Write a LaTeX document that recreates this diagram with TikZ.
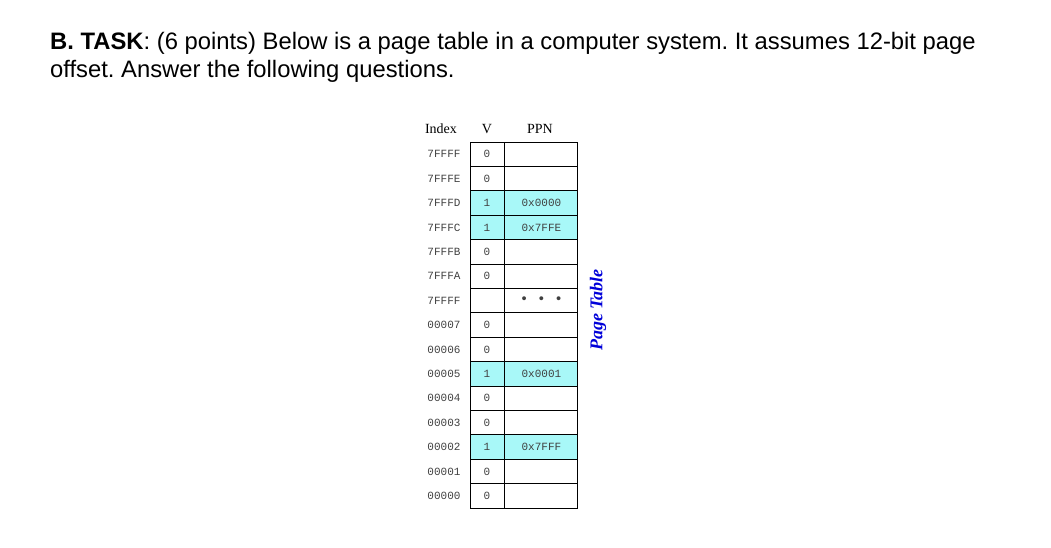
\documentclass[tikz,border=0pt]{standalone}
\usepackage{fontspec}
\setmainfont{Liberation Sans}
\newfontfamily\tms{Liberation Serif}
\newfontfamily\crr{Liberation Mono}
\frenchspacing
\begin{document}
\begin{tikzpicture}[x=1pt,y=-1pt,
  cellv/.style={draw=black,line width=0.9pt,minimum width=34pt,minimum height=24.4pt,inner sep=0pt,font=\crr\fontsize{11}{11}\selectfont,text=black!75},
  cellp/.style={draw=black,line width=0.9pt,minimum width=73pt,minimum height=24.4pt,inner sep=0pt,font=\crr\fontsize{11}{11}\selectfont,text=black!75},
  idx/.style={anchor=east,font=\crr\fontsize{11}{11}\selectfont,text=black!75},
  hdr/.style={font=\tms\fontsize{14}{14}\selectfont}]
\useasboundingbox (0,0) rectangle (1051,547);
\node[anchor=north west,align=left,font=\fontsize{23.8}{28}\selectfont,inner sep=0pt] (title) at (50,32)
 {\textbf{B. TASK}: (6 points) Below is a page table in a computer system. It assumes 12-bit page\\offset. Answer the following questions.};
\node[hdr] (hi) at (441,129) {Index};
\node[hdr] (hv) at (487,129) {V};
\node[hdr] (hp) at (540,129) {PPN};
\definecolor{cy}{HTML}{A8F8F8}
\foreach \i/\ix/\v/\p/\f in {0/7FFFF/0//white,1/7FFFE/0//white,2/7FFFD/1/0x0000/cy,3/7FFFC/1/0x7FFE/cy,4/7FFFB/0//white,5/7FFFA/0//white,6/7FFFF//{\Large\textbullet\ \textbullet\ \textbullet}/white,7/00007/0//white,8/00006/0//white,9/00005/1/0x0001/cy,10/00004/0//white,11/00003/0//white,12/00002/1/0x7FFF/cy,13/00001/0//white,14/00000/0//white}{
  \node[cellv,fill=\f] (v\i) at (487,154.2+24.4*\i) {\v};
  \node[cellp,fill=\f,anchor=west] (p\i) at (v\i.east) {\ifx\p\empty\else\p\fi};
  \node[idx] (i\i) at (464,154.2+24.4*\i) {\ix};
}
\node[rotate=90,text=blue!85!black,font=\tms\bfseries\itshape\fontsize{18}{18}\selectfont] (pt) at (598,310) {Page Table};
\end{tikzpicture}
\end{document}
